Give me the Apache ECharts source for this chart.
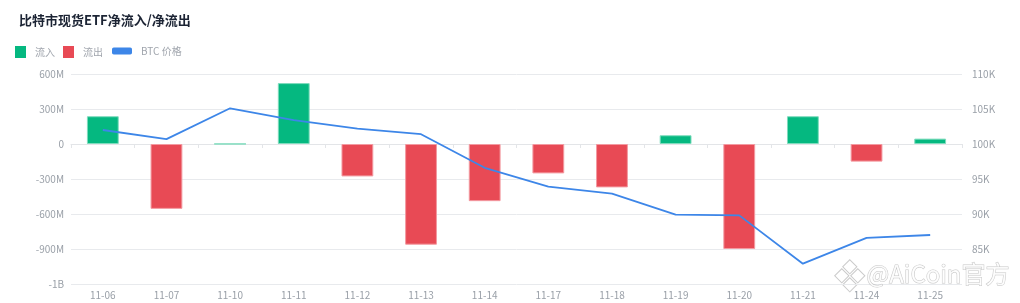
<!DOCTYPE html>
<html>
<head>
<meta charset="utf-8">
<script src="https://cdn.jsdelivr.net/npm/echarts@6/dist/echarts.min.js"></script>
<style>
html,body{margin:0;padding:0;background:#fff;}
#main{width:1020px;height:303px;}
</style>
</head>
<body>
<div id="main"></div>
<script>
const categories = ['11-06','11-07','11-10','11-11','11-12','11-13','11-14','11-17','11-18','11-19','11-20','11-21','11-24','11-25'];
const netFlowM = [238, -556, 1, 522, -278, -863, -490, -252, -372, 75, -900, 238, -151, 46];
const btcPriceK = [102.0, 100.7, 105.1, 103.4, 102.2, 101.4, 96.6, 93.9, 92.9, 89.9, 89.8, 82.9, 86.6, 87.0];
const leftTicks = ['600M','300M','0','-300M','-600M','-900M','-1B'];

const inflow = netFlowM.map(v => v > 0 ? v * 1e6 : '-');
const outflow = netFlowM.map(v => v < 0 ? v * 1e6 : '-');
const price = btcPriceK.map(v => v * 1000);

const chart = echarts.init(document.getElementById('main'), null, {renderer:'canvas'});
const fontFam = '"Noto Sans CJK SC", "Noto Sans", sans-serif';
const legendText = {color:'#a0a5ad', fontSize:10, padding:[0,0,0,4]};
chart.setOption({
  animation:false,
  textStyle:{fontFamily:fontFam},
  title:{text:'比特市现货ETF净流入/净流出', left:14, top:9,
    textStyle:{fontSize:13, fontWeight:'bold', color:'#1c2434', fontFamily:fontFam}},
  legend:[{left:10, top:41, itemGap:8, itemWidth:11, itemHeight:12,
    textStyle:legendText, itemStyle:{borderWidth:0},
    data:[
      {name:'流入', icon:'rect', itemStyle:{color:'#05b880', borderWidth:0}},
      {name:'流出', icon:'rect', itemStyle:{color:'#e84a55', borderWidth:0}}
    ]},
    {left:107, top:41, itemWidth:20, itemHeight:7,
    textStyle:legendText, itemStyle:{borderWidth:0},
    data:[
      {name:'BTC 价格', icon:'roundRect', itemStyle:{color:'#3d86e8', borderWidth:0}}
    ]}],
  grid:{left:71, right:58, top:74, bottom:19, containLabel:false},
  xAxis:[{
    type:'category', data:categories, position:'bottom',
    axisLine:{onZero:true, onZeroAxisIndex:0, lineStyle:{color:'#e3e5e8'}},
    axisTick:{show:true, length:4, lineStyle:{color:'#e3e5e8'}},
    axisLabel:{show:false}
  },{
    type:'category', data:categories, position:'bottom',
    axisLine:{show:false}, axisTick:{show:false},
    axisLabel:{show:true, color:'#9aa0a8', fontSize:10, margin:6}
  }],
  yAxis:[{
    type:'value', min:-1.2e9, max:6e8, interval:3e8,
    axisLine:{show:false}, axisTick:{show:false},
    splitLine:{lineStyle:{color:'#e8eaed'}},
    axisLabel:{color:'#9aa0a8', fontSize:10, margin:7,
      formatter:function(v){
        const i = Math.round((6e8 - v)/3e8);
        return leftTicks[i] !== undefined ? leftTicks[i] : '';
      }}
  },{
    type:'value', min:80000, max:110000, interval:5000, position:'right',
    axisLine:{show:false}, axisTick:{show:false}, splitLine:{show:false},
    axisLabel:{color:'#9aa0a8', fontSize:10, margin:10, showMinLabel:false,
      formatter:function(v){ return (v/1000)+'K'; }}
  }],
  series:[
    {name:'流入', type:'bar', stack:'flow', data:inflow, barWidth:'50%',
      itemStyle:{color:'#05b880', borderColor:'#7fdcbd', borderWidth:1}},
    {name:'流出', type:'bar', stack:'flow', data:outflow, barWidth:'50%',
      itemStyle:{color:'#e84a55', borderColor:'#f39aa1', borderWidth:1}},
    {name:'BTC 价格', type:'line', yAxisIndex:1, data:price, symbol:'none',
      lineStyle:{color:'#3d86e8', width:1.8}, itemStyle:{color:'#3d86e8'}, z:5}
  ],
  graphic:[
    {type:'text', left:866, top:261, z:100, silent:true,
      style:{text:'@AiCoin官方', font:'24px "Noto Sans CJK SC", sans-serif',
        fill:'rgba(255,255,255,0.85)', stroke:'rgba(150,150,150,0.55)', lineWidth:1}},
    {type:'group', left:834, top:259, z:100, silent:true, children:[
      {type:'rect', shape:{x:-5,y:-5,width:10,height:10}, rotation:Math.PI/4, x:14, y:6, style:{fill:'rgba(255,255,255,0.7)', stroke:'rgba(150,150,150,0.5)', lineWidth:1}},
      {type:'rect', shape:{x:-5,y:-5,width:10,height:10}, rotation:Math.PI/4, x:6, y:15, style:{fill:'rgba(255,255,255,0.7)', stroke:'rgba(150,150,150,0.5)', lineWidth:1}},
      {type:'rect', shape:{x:-5,y:-5,width:10,height:10}, rotation:Math.PI/4, x:22, y:15, style:{fill:'rgba(255,255,255,0.7)', stroke:'rgba(150,150,150,0.5)', lineWidth:1}},
      {type:'rect', shape:{x:-5,y:-5,width:10,height:10}, rotation:Math.PI/4, x:14, y:24, style:{fill:'rgba(255,255,255,0.7)', stroke:'rgba(150,150,150,0.5)', lineWidth:1}}
    ]}
  ]
});
</script>
</body>
</html>
